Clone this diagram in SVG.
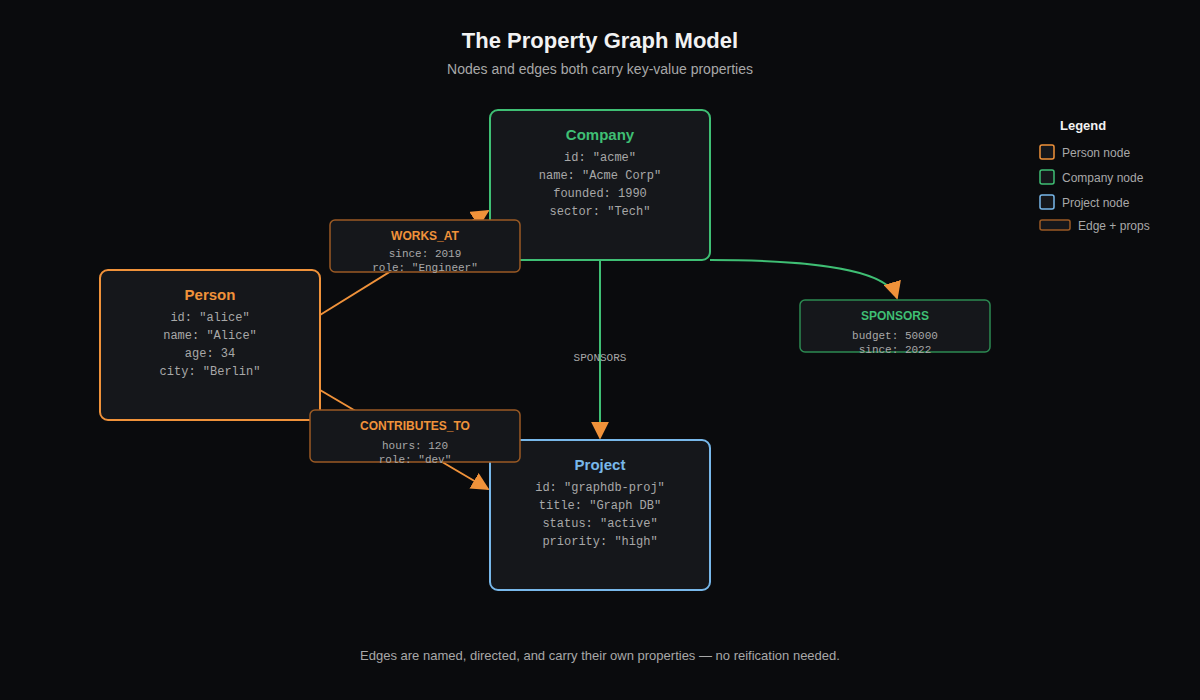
<svg xmlns="http://www.w3.org/2000/svg" width="1200" height="700" viewBox="0 0 1200 700">
<style>
.t{font-family:"Liberation Sans",Arial,sans-serif}
.m{font-family:"Liberation Mono","DejaVu Sans Mono",monospace;fill:#a8a8a8;text-anchor:middle}
.node{fill:#15171b;stroke-width:2}
.elab{fill:#15171b;stroke:#9a5a24;stroke-width:1.5}
.h{font-family:"Liberation Sans",Arial,sans-serif;font-weight:bold;text-anchor:middle}
</style>
<defs>
<marker id="ar" viewBox="0 0 10 10" refX="9" refY="5" markerWidth="10" markerHeight="10" markerUnits="userSpaceOnUse" orient="auto"><path d="M0,0 L10,5 L0,10 z" fill="#f0923a"/></marker>
<marker id="ar2" viewBox="0 0 10 10" refX="9" refY="5" markerWidth="18" markerHeight="18" markerUnits="userSpaceOnUse" orient="auto"><path d="M0,0 L10,5 L0,10 z" fill="#f0923a"/></marker>
</defs>
<rect width="1200" height="700" fill="#0a0b0d"/>
<text class="t" x="600" y="48" text-anchor="middle" font-size="22" font-weight="bold" fill="#f2f2f2">The Property Graph Model</text>
<text class="t" x="600" y="74" text-anchor="middle" font-size="14" fill="#a8a8a8">Nodes and edges both carry key-value properties</text>

<g id="connectors" fill="none" stroke-width="2">
<line x1="320" y1="315" x2="488" y2="211" stroke="#f0923a" marker-end="url(#ar2)"/>
<line x1="320" y1="390" x2="488" y2="489" stroke="#f0923a" marker-end="url(#ar2)"/>
<line x1="600" y1="260" x2="600" y2="438" stroke="#3fbf74" marker-end="url(#ar2)"/>
<path d="M710,260 C840,260 890,275 897,298" stroke="#3fbf74" marker-end="url(#ar2)"/>
<text class="m" x="600" y="361" font-size="11" stroke="none">SPONSORS</text>
</g>

<g id="person">
<rect class="node" x="100" y="270" width="220" height="150" rx="8" stroke="#f0923a"/>
<text class="h" x="210" y="300" font-size="15" fill="#f0923a">Person</text>
<text class="m" x="210" y="321" font-size="12">id: "alice"</text>
<text class="m" x="210" y="339" font-size="12">name: "Alice"</text>
<text class="m" x="210" y="357" font-size="12">age: 34</text>
<text class="m" x="210" y="375" font-size="12">city: "Berlin"</text>
</g>
<g id="company">
<rect class="node" x="490" y="110" width="220" height="150" rx="8" stroke="#3fbf74"/>
<text class="h" x="600" y="140" font-size="15" fill="#3fbf74">Company</text>
<text class="m" x="600" y="161" font-size="12">id: "acme"</text>
<text class="m" x="600" y="179" font-size="12">name: "Acme Corp"</text>
<text class="m" x="600" y="197" font-size="12">founded: 1990</text>
<text class="m" x="600" y="215" font-size="12">sector: "Tech"</text>
</g>
<g id="project">
<rect class="node" x="490" y="440" width="220" height="150" rx="8" stroke="#78b8ea"/>
<text class="h" x="600" y="470" font-size="15" fill="#78b8ea">Project</text>
<text class="m" x="600" y="491" font-size="12">id: "graphdb-proj"</text>
<text class="m" x="600" y="509" font-size="12">title: "Graph DB"</text>
<text class="m" x="600" y="527" font-size="12">status: "active"</text>
<text class="m" x="600" y="545" font-size="12">priority: "high"</text>
</g>
<g id="works_at">
<rect class="elab" x="330" y="220" width="190" height="52" rx="5"/>
<text class="h" x="425" y="240" font-size="12" fill="#f0923a">WORKS_AT</text>
<text class="m" x="425" y="257" font-size="11">since: 2019</text>
<text class="m" x="425" y="271" font-size="11">role: "Engineer"</text>
</g>
<g id="contributes_to">
<rect class="elab" x="310" y="410" width="210" height="52" rx="5"/>
<text class="h" x="415" y="430" font-size="12" fill="#f0923a">CONTRIBUTES_TO</text>
<text class="m" x="415" y="449" font-size="11">hours: 120</text>
<text class="m" x="415" y="463" font-size="11">role: "dev"</text>
</g>
<g id="sponsors">
<rect x="800" y="300" width="190" height="52" rx="5" fill="#15171b" stroke="#2c8a52" stroke-width="1.5"/>
<text class="h" x="895" y="320" font-size="12" fill="#3fbf74">SPONSORS</text>
<text class="m" x="895" y="339" font-size="11">budget: 50000</text>
<text class="m" x="895" y="353" font-size="11">since: 2022</text>
</g>
<g id="legend" class="t" font-size="12" fill="#a8a8a8">
<text x="1060" y="130" font-size="13" font-weight="bold" fill="#f2f2f2">Legend</text>
<rect x="1040" y="145" width="14" height="14" rx="2" fill="#15171b" stroke="#f0923a" stroke-width="1.5"/>
<text x="1062" y="157">Person node</text>
<rect x="1040" y="170" width="14" height="14" rx="2" fill="#15171b" stroke="#3fbf74" stroke-width="1.5"/>
<text x="1062" y="182">Company node</text>
<rect x="1040" y="195" width="14" height="14" rx="2" fill="#15171b" stroke="#78b8ea" stroke-width="1.5"/>
<text x="1062" y="207">Project node</text>
<rect x="1040" y="220" width="30" height="10" rx="2" fill="#15171b" stroke="#9a5a24" stroke-width="1.5"/>
<text x="1078" y="230">Edge + props</text>
</g>
<text class="t" x="600" y="660" text-anchor="middle" font-size="13" fill="#a8a8a8">Edges are named, directed, and carry their own properties — no reification needed.</text>
</svg>
